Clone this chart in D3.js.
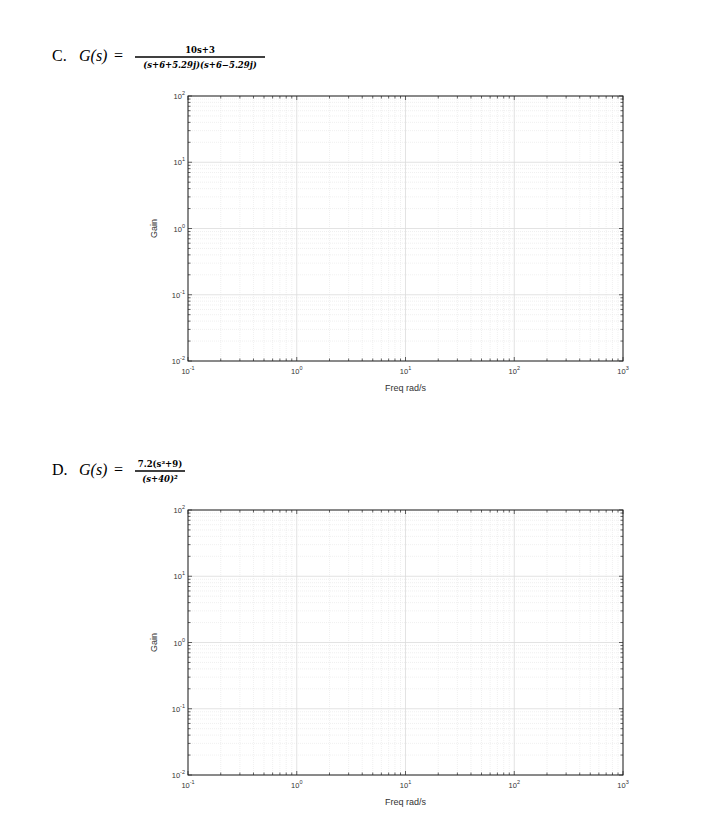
<!DOCTYPE html><html><head><meta charset="utf-8"><script src="https://cdn.jsdelivr.net/npm/d3@7"></script>
<style>body{margin:0;background:#fff}</style></head><body><svg id="c" width="726" height="830"></svg>
<script>
const xDomain=[0.1,1000];
const yDomain=[0.01,100];
const xTicks=[0.1,1,10,100,1000];
const yTicks=[0.01,0.1,1,10,100];
const xLabel="Freq rad/s", yLabel="Gain";
const plots=[{top:96,letter:"C.",num:"10s+3",den:"(s+6+5.29j)(s+6−5.29j)",ty:57,fw:130},
             {top:510,letter:"D.",num:"7.2(s²+9)",den:"(s+40)²",ty:471,fw:50}];
const svg=d3.select("#c");
const L=188,R=623,H=265;
const serif="'DejaVu Serif',serif";
plots.forEach(p=>{
 const x=d3.scaleLog().domain(xDomain).range([L,R]);
 const y=d3.scaleLog().domain(yDomain).range([p.top+H,p.top]);
 const g=svg.append("g");
 g.append("text").attr("x",52).attr("y",p.ty+4).attr("font-family","'Liberation Serif',serif").attr("font-size",16).text(p.letter);
 g.append("text").attr("x",79).attr("y",p.ty+4).attr("font-family","'Liberation Serif',serif").attr("font-size",16).attr("font-style","italic").text("G(s)");
 g.append("text").attr("x",114).attr("y",p.ty+4).attr("font-family","'Liberation Serif',serif").attr("font-size",16).text("=");
 const fx=135;
 g.append("line").attr("x1",fx).attr("x2",fx+p.fw).attr("y1",p.ty).attr("y2",p.ty).attr("stroke","#000").attr("stroke-width",1.4);
 g.append("text").attr("x",fx+p.fw/2).attr("y",p.ty-4).attr("text-anchor","middle").attr("font-family",serif).attr("font-weight","bold").attr("font-size",8.5).text(p.num);
 g.append("text").attr("x",fx+p.fw/2).attr("y",p.ty+11).attr("text-anchor","middle").attr("font-family",serif).attr("font-weight","bold").attr("font-style","italic").attr("font-size",8.5).text(p.den);
 const xm=[],ym=[];
 for(let d=-1;d<3;d++)for(let k=2;k<10;k++)xm.push(k*10**d);
 for(let d=-2;d<2;d++)for(let k=2;k<10;k++)ym.push(k*10**d);
 xm.forEach(v=>g.append("line").attr("x1",x(v)).attr("x2",x(v)).attr("y1",p.top).attr("y2",p.top+H).attr("stroke","#e6e6e6").attr("stroke-dasharray","1,1").attr("stroke-width",0.6));
 ym.forEach(v=>g.append("line").attr("x1",L).attr("x2",R).attr("y1",y(v)).attr("y2",y(v)).attr("stroke","#e6e6e6").attr("stroke-dasharray","1,1").attr("stroke-width",0.6));
 xTicks.forEach(v=>g.append("line").attr("x1",x(v)).attr("x2",x(v)).attr("y1",p.top).attr("y2",p.top+H).attr("stroke","#dcdcdc").attr("stroke-width",0.8));
 yTicks.forEach(v=>g.append("line").attr("x1",L).attr("x2",R).attr("y1",y(v)).attr("y2",y(v)).attr("stroke","#dcdcdc").attr("stroke-width",0.8));
 const tk=(x1,y1,x2,y2)=>g.append("line").attr("x1",x1).attr("y1",y1).attr("x2",x2).attr("y2",y2).attr("stroke","#222").attr("stroke-width",0.7);
 xm.forEach(v=>{tk(x(v),p.top,x(v),p.top+2.5);tk(x(v),p.top+H,x(v),p.top+H-2.5);});
 xTicks.forEach(v=>{tk(x(v),p.top,x(v),p.top+4);tk(x(v),p.top+H,x(v),p.top+H-4);});
 ym.forEach(v=>{tk(L,y(v),L+2.5,y(v));tk(R,y(v),R-2.5,y(v));});
 yTicks.forEach(v=>{tk(L,y(v),L+4,y(v));tk(R,y(v),R-4,y(v));});
 g.append("rect").attr("x",L).attr("y",p.top).attr("width",R-L).attr("height",H).attr("fill","none").attr("stroke","#222").attr("stroke-width",1);
 const f="'Liberation Sans',Arial,sans-serif";
 const lab=(t,v)=>{t.append("tspan").text("10");t.append("tspan").attr("dy",-4).attr("font-size",5.5).text(String(Math.round(Math.log10(v))));};
 xTicks.forEach(v=>lab(g.append("text").attr("x",x(v)).attr("y",p.top+H+13).attr("text-anchor","middle").attr("font-family",f).attr("font-size",7.5).attr("fill","#333"),v));
 yTicks.forEach(v=>lab(g.append("text").attr("x",L-3).attr("y",y(v)+3).attr("text-anchor","end").attr("font-family",f).attr("font-size",7.5).attr("fill","#333"),v));
 g.append("text").attr("x",(L+R)/2).attr("y",p.top+H+30).attr("text-anchor","middle").attr("font-family",f).attr("font-size",9).attr("fill","#333").text(xLabel);
 g.append("text").attr("transform",`translate(157,${p.top+H/2}) rotate(-90)`).attr("text-anchor","middle").attr("font-family",f).attr("font-size",9).attr("fill","#333").text(yLabel);
});
</script></body></html>
